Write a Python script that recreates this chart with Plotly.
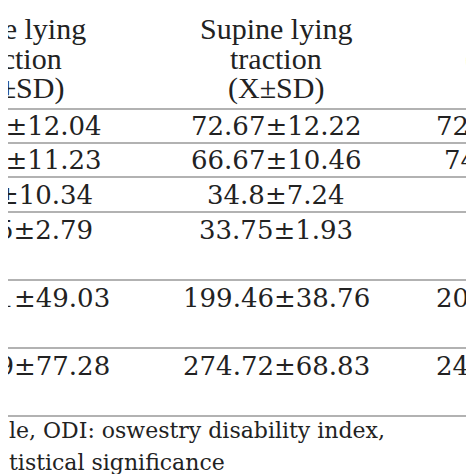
import plotly.graph_objects as go

col_x = [8, 268, 505]
header_lines = [["Prone lying", "traction", "(X±SD)"],
                ["Supine lying", "traction", "(X±SD)"],
                ["Control", "(X±SD)", ""]]
header_y = [20, 50, 80]
prone = ["70.33±12.04", "68.67±11.23", "35.2±10.34", "33.25±2.79", "197.21±49.03", "265.59±77.28"]
supine = ["72.67±12.22", "66.67±10.46", "34.8±7.24", "33.75±1.93", "199.46±38.76", "274.72±68.83"]
control = ["72.33±11.8", "74.33±9.6", "36±8.1", "34±2.1", "208.3±41.2", "248.6±70.4"]
row_y = [118, 152, 187, 222, 290, 358]
line_y = [101, 135, 169, 204, 272, 340, 408]
footer = ["le, ODI: oswestry disability index,", "tistical significance"]
footer_y = [422, 454]

W = H = 474.0
def px(x): return x / W
def py(y): return 1 - y / H

fig = go.Figure()
ann = []
for cx, lines in zip(col_x, header_lines):
    for t, y in zip(lines, header_y):
        if t:
            ann.append(dict(x=px(cx), y=py(y), xref="paper", yref="paper", text=t, showarrow=False,
                            xanchor="center", yanchor="middle",
                            font=dict(family="Liberation Serif", size=30, color="#222")))
for cx, vals in zip(col_x, [prone, supine, control]):
    for t, y in zip(vals, row_y):
        ann.append(dict(x=px(cx), y=py(y), xref="paper", yref="paper", text=t, showarrow=False,
                        xanchor="center", yanchor="middle",
                        font=dict(family="DejaVu Serif", size=26, color="#222")))
for t, y in zip(footer, footer_y):
    ann.append(dict(x=px(-1), y=py(y), xref="paper", yref="paper", text=t, showarrow=False,
                    xanchor="left", yanchor="middle",
                    font=dict(family="DejaVu Serif", size=22, color="#222")))
shapes = [dict(type="line", x0=0, x1=1, y0=py(y), y1=py(y), xref="paper", yref="paper",
               line=dict(color="#999", width=1.5)) for y in line_y]
fig.update_layout(width=474, height=474, margin=dict(l=0, r=0, t=0, b=0),
                  plot_bgcolor="white", paper_bgcolor="white",
                  xaxis=dict(visible=False), yaxis=dict(visible=False),
                  annotations=ann, shapes=shapes, showlegend=False)
fig.write_html("out.html")
